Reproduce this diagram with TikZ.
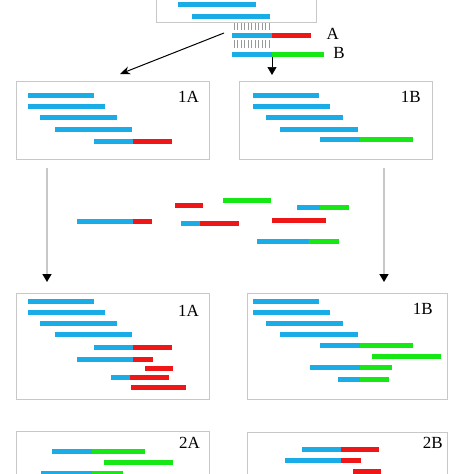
\documentclass[tikz,border=0pt]{standalone}
\usepackage{fontspec}
\setmainfont{Liberation Serif}
\usetikzlibrary{arrows.meta,positioning,calc}
\definecolor{fragblue}{RGB}{25,172,230}
\definecolor{fragred}{RGB}{238,22,22}
\definecolor{fraggreen}{RGB}{22,232,22}
\definecolor{boxgray}{RGB}{200,200,200}

\begin{document}
\begin{tikzpicture}[
    x=1pt, y=-1pt,
    bl/.style={draw=fragblue, line width=5pt},
    rd/.style={draw=fragred, line width=5pt},
    gr/.style={draw=fraggreen, line width=5pt},
    frame/.style={rectangle, draw=boxgray, line width=1pt, inner sep=0pt,
                  anchor=north west},
    hatch/.style={draw=gray!80, line width=0.5pt},
    down/.style={draw=boxgray, line width=1.5pt,
                 -{Triangle[length=8pt,width=9pt,color=black]}},
    tag/.style={anchor=east, inner sep=0pt, font=\fontsize{17}{17}\selectfont},
    point/.style={inner sep=0, minimum width=0}
]

    \useasboundingbox (0,0) rectangle (474,474);

    % reads on the top
    \node[frame, minimum width=160pt, minimum height=30pt] (top) at (156,-8) {};
    \draw[bl] (178,4.7) -- (256,4.7);
    \draw[bl] (192,16) -- (270,16);
    \foreach \x in {234,237.5,...,270} {
        \draw[hatch] (\x,23) -- (\x,30);
        \draw[hatch] (\x,40) -- (\x,48);
    }
    \draw[bl] (232,35) -- (272,35);
    \draw[rd] (272,35) -- (311,35);
    \node[tag] (tagA) at (339,34) {A};
    \draw[bl] (232,54) -- (272,54);
    \draw[gr] (272,54) -- (324,54);
    \node[tag] (tagB) at (345,53) {B};

    \coordinate (diagS) at (224,33);
    \coordinate (diagE) at (120,74);
    \coordinate (smallS) at (272,57);
    \coordinate (smallE) at (272,75);
    \draw[line width=1pt, -{Stealth[length=10pt,width=8pt]}] (diagS) -- (diagE);
    \draw[line width=0.6pt, -{Triangle[length=8pt,width=9pt]}] (smallS) -- (smallE);

    % first round, 1A
    \node[frame, minimum width=193pt, minimum height=78pt] (boxA) at (16,81) {};
    \node[tag] (tag1A) at (199,97) {1A};
    \draw[bl] (28,95.7) -- (94,95.7);
    \draw[bl] (28,106) -- (105,106);
    \draw[bl] (40,117) -- (117,117);
    \draw[bl] (55,129) -- (132,129);
    \draw[bl] (94,141.7) -- (133,141.7);
    \draw[rd] (133,141.7) -- (172,141.7);

    % first round, 1B
    \node[frame, minimum width=193pt, minimum height=78pt] (boxB) at (239,81) {};
    \node[tag] (tag1B) at (421,97) {1B};
    \draw[bl] (253,95) -- (319,95);
    \draw[bl] (253,106) -- (330,106);
    \draw[bl] (266,117) -- (343,117);
    \draw[bl] (280,129) -- (358,129);
    \draw[bl] (320,139) -- (360,139);
    \draw[gr] (360,139) -- (413,139);

    % loose fragments
    \draw[bl] (77,221) -- (133,221);
    \draw[rd] (133,221) -- (152,221);
    \draw[rd] (175,205) -- (203,205);
    \draw[gr] (223,200) -- (271,200);
    \draw[bl] (297,207) -- (320,207);
    \draw[gr] (320,207) -- (349,207);
    \draw[bl] (181,223) -- (200,223);
    \draw[rd] (200,223) -- (239,223);
    \draw[rd] (272,220) -- (326,220);
    \draw[bl] (257,241) -- (309,241);
    \draw[gr] (309,241) -- (339,241);

    % second round, 1A
    \node[frame, minimum width=193pt, minimum height=106pt] (boxAA) at (16,293) {};
    \node[tag] (tag1AA) at (199,311) {1A};
    \draw[bl] (28,301) -- (94,301);
    \draw[bl] (28,312) -- (105,312);
    \draw[bl] (40,323) -- (117,323);
    \draw[bl] (55,334) -- (132,334);
    \draw[bl] (94,347) -- (133,347);
    \draw[rd] (133,347) -- (172,347);
    \draw[bl] (77,359) -- (133,359);
    \draw[rd] (133,359) -- (153,359);
    \draw[rd] (145,368) -- (173,368);
    \draw[bl] (111,377) -- (130,377);
    \draw[rd] (130,377) -- (169,377);
    \draw[rd] (131,387) -- (186,387);

    % second round, 1B
    \node[frame, minimum width=200pt, minimum height=106pt] (boxBB) at (247,293) {};
    \node[tag] (tag1BB) at (433,309) {1B};
    \draw[bl] (253,301) -- (319,301);
    \draw[bl] (253,312) -- (330,312);
    \draw[bl] (266,323) -- (343,323);
    \draw[bl] (280,334) -- (358,334);
    \draw[bl] (320,345) -- (360,345);
    \draw[gr] (360,345) -- (413,345);
    \draw[gr] (372,356) -- (441,356);
    \draw[bl] (310,367) -- (360,367);
    \draw[gr] (360,367) -- (392,367);
    \draw[bl] (338,379) -- (360,379);
    \draw[gr] (360,379) -- (389,379);

    \draw[down] ($(boxA.south west)+(31,8)$) -- ($(boxAA.north west)+(31,-11)$);
    \draw[down] ($(boxB.south west)+(145,8)$) -- ($(boxBB.north west)+(137,-11)$);

    % third round, 2A and 2B
    \node[frame, minimum width=193pt, minimum height=60pt] (boxC) at (16,431) {};
    \node[tag] (tag2A) at (200,443) {2A};
    \draw[bl] (52,451) -- (92,451);
    \draw[gr] (92,451) -- (145,451);
    \draw[gr] (104,462) -- (173,462);
    \draw[bl] (41,473) -- (92,473);
    \draw[gr] (92,473) -- (123,473);

    \node[frame, minimum width=200pt, minimum height=60pt] (boxD) at (247,432) {};
    \node[tag] (tag2B) at (443,443) {2B};
    \draw[bl] (302,449) -- (341,449);
    \draw[rd] (341,449) -- (379,449);
    \draw[bl] (285,460) -- (341,460);
    \draw[rd] (341,460) -- (361,460);
    \draw[rd] (353,471) -- (381,471);

\end{tikzpicture}
\end{document}
